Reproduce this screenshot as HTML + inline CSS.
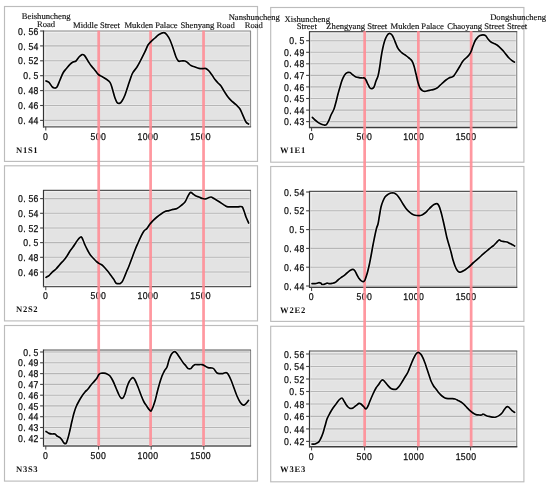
<!DOCTYPE html>
<html lang="en"><head><meta charset="utf-8"><title>Street profile charts</title>
<style>
html,body{margin:0;padding:0;background:#fff;}
body{width:550px;height:490px;overflow:hidden;}
svg{display:block;text-rendering:geometricPrecision;}
.tk{font-family:"Liberation Sans",sans-serif;font-size:9.9px;fill:#111;stroke:#111;stroke-width:.27px;}
.ti{font-family:"Liberation Serif",serif;font-size:8.6px;fill:#111;stroke:#111;stroke-width:.15px;}
.nm{font-family:"Liberation Serif",serif;font-weight:bold;font-size:8.6px;fill:#111;letter-spacing:.42px;}
.hl{fill:none;stroke:#f0f0f0;stroke-width:3.3;stroke-linejoin:round;stroke-linecap:round;opacity:.75;}
.cv{fill:none;stroke:#000;stroke-width:1.7;stroke-linejoin:round;stroke-linecap:round;}
</style></head><body>
<svg width="550" height="490" viewBox="0 0 550 490">
<rect width="550" height="490" fill="#fff"/>

<g>
<rect x="4.5" y="6.5" width="253.0" height="154.9" fill="#fff" stroke="#bcbcbc" stroke-width="1.15"/>
<rect x="43.5" y="31.0" width="207.0" height="95.9" fill="#f1f1f1"/>
<rect x="45.5" y="32.8" width="203.6" height="92.5" fill="#e3e3e3"/>
<line x1="45.0" y1="45.9" x2="249.0" y2="45.9" stroke="#e9e9e9" stroke-width="2.8"/>
<line x1="44.5" y1="45.9" x2="249.5" y2="45.9" stroke="#b6b6b6" stroke-width="1.1"/>
<line x1="45.0" y1="60.8" x2="249.0" y2="60.8" stroke="#e9e9e9" stroke-width="2.8"/>
<line x1="44.5" y1="60.8" x2="249.5" y2="60.8" stroke="#b6b6b6" stroke-width="1.1"/>
<line x1="45.0" y1="75.7" x2="249.0" y2="75.7" stroke="#e9e9e9" stroke-width="2.8"/>
<line x1="44.5" y1="75.7" x2="249.5" y2="75.7" stroke="#b6b6b6" stroke-width="1.1"/>
<line x1="45.0" y1="90.6" x2="249.0" y2="90.6" stroke="#e9e9e9" stroke-width="2.8"/>
<line x1="44.5" y1="90.6" x2="249.5" y2="90.6" stroke="#b6b6b6" stroke-width="1.1"/>
<line x1="45.0" y1="105.5" x2="249.0" y2="105.5" stroke="#e9e9e9" stroke-width="2.8"/>
<line x1="44.5" y1="105.5" x2="249.5" y2="105.5" stroke="#b6b6b6" stroke-width="1.1"/>
<line x1="45.0" y1="120.4" x2="249.0" y2="120.4" stroke="#e9e9e9" stroke-width="2.8"/>
<line x1="44.5" y1="120.4" x2="249.5" y2="120.4" stroke="#b6b6b6" stroke-width="1.1"/>
<line x1="250.5" y1="31.0" x2="250.5" y2="126.9" stroke="#8e8e8e" stroke-width="1.2"/>
<line x1="43.5" y1="31.0" x2="251.0" y2="31.0" stroke="#858585" stroke-width="1.1"/>
<line x1="43.5" y1="30.5" x2="43.5" y2="127.5" stroke="#333" stroke-width="1.2"/>
<line x1="43.0" y1="126.9" x2="251.1" y2="126.9" stroke="#555" stroke-width="1.4"/>
<line x1="40.1" y1="31.0" x2="43.5" y2="31.0" stroke="#444" stroke-width="1.1"/>
<text class="tk" transform="scale(0.88 1)" x="20.43 26.48 32.25 38.16" y="34.65">0.56</text>
<line x1="40.1" y1="45.9" x2="43.5" y2="45.9" stroke="#444" stroke-width="1.1"/>
<text class="tk" transform="scale(0.88 1)" x="20.43 26.48 32.25 38.16" y="49.55">0.54</text>
<line x1="40.1" y1="60.8" x2="43.5" y2="60.8" stroke="#444" stroke-width="1.1"/>
<text class="tk" transform="scale(0.88 1)" x="20.43 26.48 32.25 38.16" y="64.45">0.52</text>
<line x1="40.1" y1="75.7" x2="43.5" y2="75.7" stroke="#444" stroke-width="1.1"/>
<text class="tk" transform="scale(0.88 1)" x="26.34 32.39 38.16" y="79.35">0.5</text>
<line x1="40.1" y1="90.6" x2="43.5" y2="90.6" stroke="#444" stroke-width="1.1"/>
<text class="tk" transform="scale(0.88 1)" x="20.43 26.48 32.25 38.16" y="94.25">0.48</text>
<line x1="40.1" y1="105.5" x2="43.5" y2="105.5" stroke="#444" stroke-width="1.1"/>
<text class="tk" transform="scale(0.88 1)" x="20.43 26.48 32.25 38.16" y="109.15">0.46</text>
<line x1="40.1" y1="120.4" x2="43.5" y2="120.4" stroke="#444" stroke-width="1.1"/>
<text class="tk" transform="scale(0.88 1)" x="20.43 26.48 32.25 38.16" y="124.05">0.44</text>
<line x1="45.8" y1="126.9" x2="45.8" y2="130.5" stroke="#444" stroke-width="1"/>
<line x1="98.6" y1="126.9" x2="98.6" y2="130.5" stroke="#444" stroke-width="1"/>
<line x1="151.2" y1="126.9" x2="151.2" y2="130.5" stroke="#444" stroke-width="1"/>
<line x1="203.8" y1="126.9" x2="203.8" y2="130.5" stroke="#444" stroke-width="1"/>
<text class="tk" transform="scale(0.88 1)" x="48.84" y="139.75">0</text>
<text class="tk" transform="scale(0.88 1)" x="102.93 108.84 114.75" y="139.75">500</text>
<text class="tk" transform="scale(0.88 1)" x="156.34 162.25 168.16 174.07" y="139.75">1000</text>
<text class="tk" transform="scale(0.88 1)" x="216.23 222.14 228.05 233.95" y="139.75">1500</text>
<text class="nm" style="letter-spacing:.65px" x="16.1" y="152.5">N1S1</text>
</g>
<g>
<rect x="4.5" y="165.8" width="253.0" height="155.1" fill="#fff" stroke="#bcbcbc" stroke-width="1.15"/>
<rect x="43.5" y="190.4" width="207.0" height="96.2" fill="#f1f1f1"/>
<rect x="45.5" y="192.2" width="203.6" height="92.8" fill="#e3e3e3"/>
<line x1="45.0" y1="198.6" x2="249.0" y2="198.6" stroke="#e9e9e9" stroke-width="2.8"/>
<line x1="44.5" y1="198.6" x2="249.5" y2="198.6" stroke="#b6b6b6" stroke-width="1.1"/>
<line x1="45.0" y1="213.3" x2="249.0" y2="213.3" stroke="#e9e9e9" stroke-width="2.8"/>
<line x1="44.5" y1="213.3" x2="249.5" y2="213.3" stroke="#b6b6b6" stroke-width="1.1"/>
<line x1="45.0" y1="228.0" x2="249.0" y2="228.0" stroke="#e9e9e9" stroke-width="2.8"/>
<line x1="44.5" y1="228.0" x2="249.5" y2="228.0" stroke="#b6b6b6" stroke-width="1.1"/>
<line x1="45.0" y1="242.6" x2="249.0" y2="242.6" stroke="#e9e9e9" stroke-width="2.8"/>
<line x1="44.5" y1="242.6" x2="249.5" y2="242.6" stroke="#b6b6b6" stroke-width="1.1"/>
<line x1="45.0" y1="257.3" x2="249.0" y2="257.3" stroke="#e9e9e9" stroke-width="2.8"/>
<line x1="44.5" y1="257.3" x2="249.5" y2="257.3" stroke="#b6b6b6" stroke-width="1.1"/>
<line x1="45.0" y1="272.0" x2="249.0" y2="272.0" stroke="#e9e9e9" stroke-width="2.8"/>
<line x1="44.5" y1="272.0" x2="249.5" y2="272.0" stroke="#b6b6b6" stroke-width="1.1"/>
<line x1="250.5" y1="190.4" x2="250.5" y2="286.6" stroke="#8e8e8e" stroke-width="1.2"/>
<line x1="43.5" y1="190.4" x2="251.0" y2="190.4" stroke="#555" stroke-width="1.1"/>
<line x1="43.5" y1="189.9" x2="43.5" y2="287.2" stroke="#333" stroke-width="1.2"/>
<line x1="43.0" y1="286.6" x2="251.1" y2="286.6" stroke="#555" stroke-width="1.4"/>
<line x1="40.1" y1="198.6" x2="43.5" y2="198.6" stroke="#444" stroke-width="1.1"/>
<text class="tk" transform="scale(0.88 1)" x="20.43 26.48 32.25 38.16" y="202.25">0.56</text>
<line x1="40.1" y1="213.3" x2="43.5" y2="213.3" stroke="#444" stroke-width="1.1"/>
<text class="tk" transform="scale(0.88 1)" x="20.43 26.48 32.25 38.16" y="216.93">0.54</text>
<line x1="40.1" y1="228.0" x2="43.5" y2="228.0" stroke="#444" stroke-width="1.1"/>
<text class="tk" transform="scale(0.88 1)" x="20.43 26.48 32.25 38.16" y="231.61">0.52</text>
<line x1="40.1" y1="242.6" x2="43.5" y2="242.6" stroke="#444" stroke-width="1.1"/>
<text class="tk" transform="scale(0.88 1)" x="26.34 32.39 38.16" y="246.29">0.5</text>
<line x1="40.1" y1="257.3" x2="43.5" y2="257.3" stroke="#444" stroke-width="1.1"/>
<text class="tk" transform="scale(0.88 1)" x="20.43 26.48 32.25 38.16" y="260.97">0.48</text>
<line x1="40.1" y1="272.0" x2="43.5" y2="272.0" stroke="#444" stroke-width="1.1"/>
<text class="tk" transform="scale(0.88 1)" x="20.43 26.48 32.25 38.16" y="275.65">0.46</text>
<line x1="45.8" y1="286.6" x2="45.8" y2="290.2" stroke="#444" stroke-width="1"/>
<line x1="98.6" y1="286.6" x2="98.6" y2="290.2" stroke="#444" stroke-width="1"/>
<line x1="151.2" y1="286.6" x2="151.2" y2="290.2" stroke="#444" stroke-width="1"/>
<line x1="203.8" y1="286.6" x2="203.8" y2="290.2" stroke="#444" stroke-width="1"/>
<text class="tk" transform="scale(0.88 1)" x="48.84" y="299.45">0</text>
<text class="tk" transform="scale(0.88 1)" x="102.93 108.84 114.75" y="299.45">500</text>
<text class="tk" transform="scale(0.88 1)" x="156.34 162.25 168.16 174.07" y="299.45">1000</text>
<text class="tk" transform="scale(0.88 1)" x="216.23 222.14 228.05 233.95" y="299.45">1500</text>
<text class="nm" style="letter-spacing:.65px" x="16.1" y="312.2">N2S2</text>
</g>
<g>
<rect x="4.5" y="325.5" width="253.0" height="155.6" fill="#fff" stroke="#bcbcbc" stroke-width="1.15"/>
<rect x="43.5" y="350.0" width="207.0" height="96.0" fill="#f1f1f1"/>
<rect x="45.5" y="351.8" width="203.6" height="92.6" fill="#e3e3e3"/>
<line x1="45.0" y1="352.0" x2="249.0" y2="352.0" stroke="#e9e9e9" stroke-width="2.8"/>
<line x1="44.5" y1="352.0" x2="249.5" y2="352.0" stroke="#b6b6b6" stroke-width="1.1"/>
<line x1="45.0" y1="362.8" x2="249.0" y2="362.8" stroke="#e9e9e9" stroke-width="2.8"/>
<line x1="44.5" y1="362.8" x2="249.5" y2="362.8" stroke="#b6b6b6" stroke-width="1.1"/>
<line x1="45.0" y1="373.6" x2="249.0" y2="373.6" stroke="#e9e9e9" stroke-width="2.8"/>
<line x1="44.5" y1="373.6" x2="249.5" y2="373.6" stroke="#b6b6b6" stroke-width="1.1"/>
<line x1="45.0" y1="384.4" x2="249.0" y2="384.4" stroke="#e9e9e9" stroke-width="2.8"/>
<line x1="44.5" y1="384.4" x2="249.5" y2="384.4" stroke="#b6b6b6" stroke-width="1.1"/>
<line x1="45.0" y1="395.2" x2="249.0" y2="395.2" stroke="#e9e9e9" stroke-width="2.8"/>
<line x1="44.5" y1="395.2" x2="249.5" y2="395.2" stroke="#b6b6b6" stroke-width="1.1"/>
<line x1="45.0" y1="405.9" x2="249.0" y2="405.9" stroke="#e9e9e9" stroke-width="2.8"/>
<line x1="44.5" y1="405.9" x2="249.5" y2="405.9" stroke="#b6b6b6" stroke-width="1.1"/>
<line x1="45.0" y1="416.7" x2="249.0" y2="416.7" stroke="#e9e9e9" stroke-width="2.8"/>
<line x1="44.5" y1="416.7" x2="249.5" y2="416.7" stroke="#b6b6b6" stroke-width="1.1"/>
<line x1="45.0" y1="427.5" x2="249.0" y2="427.5" stroke="#e9e9e9" stroke-width="2.8"/>
<line x1="44.5" y1="427.5" x2="249.5" y2="427.5" stroke="#b6b6b6" stroke-width="1.1"/>
<line x1="45.0" y1="438.3" x2="249.0" y2="438.3" stroke="#e9e9e9" stroke-width="2.8"/>
<line x1="44.5" y1="438.3" x2="249.5" y2="438.3" stroke="#b6b6b6" stroke-width="1.1"/>
<line x1="250.5" y1="350.0" x2="250.5" y2="446.0" stroke="#8e8e8e" stroke-width="1.2"/>
<line x1="43.5" y1="350.0" x2="251.0" y2="350.0" stroke="#555" stroke-width="1.1"/>
<line x1="43.5" y1="349.5" x2="43.5" y2="446.6" stroke="#333" stroke-width="1.2"/>
<line x1="43.0" y1="446.0" x2="251.1" y2="446.0" stroke="#555" stroke-width="1.4"/>
<line x1="40.1" y1="352.0" x2="43.5" y2="352.0" stroke="#444" stroke-width="1.1"/>
<text class="tk" transform="scale(0.88 1)" x="26.34 32.39 38.16" y="355.65">0.5</text>
<line x1="40.1" y1="362.8" x2="43.5" y2="362.8" stroke="#444" stroke-width="1.1"/>
<text class="tk" transform="scale(0.88 1)" x="20.43 26.48 32.25 38.16" y="366.44">0.49</text>
<line x1="40.1" y1="373.6" x2="43.5" y2="373.6" stroke="#444" stroke-width="1.1"/>
<text class="tk" transform="scale(0.88 1)" x="20.43 26.48 32.25 38.16" y="377.23">0.48</text>
<line x1="40.1" y1="384.4" x2="43.5" y2="384.4" stroke="#444" stroke-width="1.1"/>
<text class="tk" transform="scale(0.88 1)" x="20.43 26.48 32.25 38.16" y="388.02">0.47</text>
<line x1="40.1" y1="395.2" x2="43.5" y2="395.2" stroke="#444" stroke-width="1.1"/>
<text class="tk" transform="scale(0.88 1)" x="20.43 26.48 32.25 38.16" y="398.81">0.46</text>
<line x1="40.1" y1="405.9" x2="43.5" y2="405.9" stroke="#444" stroke-width="1.1"/>
<text class="tk" transform="scale(0.88 1)" x="20.43 26.48 32.25 38.16" y="409.60">0.45</text>
<line x1="40.1" y1="416.7" x2="43.5" y2="416.7" stroke="#444" stroke-width="1.1"/>
<text class="tk" transform="scale(0.88 1)" x="20.43 26.48 32.25 38.16" y="420.39">0.44</text>
<line x1="40.1" y1="427.5" x2="43.5" y2="427.5" stroke="#444" stroke-width="1.1"/>
<text class="tk" transform="scale(0.88 1)" x="20.43 26.48 32.25 38.16" y="431.18">0.43</text>
<line x1="40.1" y1="438.3" x2="43.5" y2="438.3" stroke="#444" stroke-width="1.1"/>
<text class="tk" transform="scale(0.88 1)" x="20.43 26.48 32.25 38.16" y="441.97">0.42</text>
<line x1="45.8" y1="446.0" x2="45.8" y2="449.6" stroke="#444" stroke-width="1"/>
<line x1="98.6" y1="446.0" x2="98.6" y2="449.6" stroke="#444" stroke-width="1"/>
<line x1="151.2" y1="446.0" x2="151.2" y2="449.6" stroke="#444" stroke-width="1"/>
<line x1="203.8" y1="446.0" x2="203.8" y2="449.6" stroke="#444" stroke-width="1"/>
<text class="tk" transform="scale(0.88 1)" x="48.84" y="458.85">0</text>
<text class="tk" transform="scale(0.88 1)" x="102.93 108.84 114.75" y="458.85">500</text>
<text class="tk" transform="scale(0.88 1)" x="156.34 162.25 168.16 174.07" y="458.85">1000</text>
<text class="tk" transform="scale(0.88 1)" x="216.23 222.14 228.05 233.95" y="458.85">1500</text>
<text class="nm" style="letter-spacing:.65px" x="16.1" y="471.6">N3S3</text>
</g>
<g>
<rect x="270.7" y="7.5" width="253.2" height="154.7" fill="#fff" stroke="#bcbcbc" stroke-width="1.15"/>
<rect x="309.5" y="31.6" width="207.2" height="95.9" fill="#f1f1f1"/>
<rect x="311.5" y="33.4" width="203.8" height="92.5" fill="#e3e3e3"/>
<line x1="311.0" y1="40.7" x2="515.2" y2="40.7" stroke="#e9e9e9" stroke-width="2.8"/>
<line x1="310.5" y1="40.7" x2="515.7" y2="40.7" stroke="#b6b6b6" stroke-width="1.1"/>
<line x1="311.0" y1="52.3" x2="515.2" y2="52.3" stroke="#e9e9e9" stroke-width="2.8"/>
<line x1="310.5" y1="52.3" x2="515.7" y2="52.3" stroke="#b6b6b6" stroke-width="1.1"/>
<line x1="311.0" y1="63.8" x2="515.2" y2="63.8" stroke="#e9e9e9" stroke-width="2.8"/>
<line x1="310.5" y1="63.8" x2="515.7" y2="63.8" stroke="#b6b6b6" stroke-width="1.1"/>
<line x1="311.0" y1="75.4" x2="515.2" y2="75.4" stroke="#e9e9e9" stroke-width="2.8"/>
<line x1="310.5" y1="75.4" x2="515.7" y2="75.4" stroke="#b6b6b6" stroke-width="1.1"/>
<line x1="311.0" y1="86.9" x2="515.2" y2="86.9" stroke="#e9e9e9" stroke-width="2.8"/>
<line x1="310.5" y1="86.9" x2="515.7" y2="86.9" stroke="#b6b6b6" stroke-width="1.1"/>
<line x1="311.0" y1="98.5" x2="515.2" y2="98.5" stroke="#e9e9e9" stroke-width="2.8"/>
<line x1="310.5" y1="98.5" x2="515.7" y2="98.5" stroke="#b6b6b6" stroke-width="1.1"/>
<line x1="311.0" y1="110.1" x2="515.2" y2="110.1" stroke="#e9e9e9" stroke-width="2.8"/>
<line x1="310.5" y1="110.1" x2="515.7" y2="110.1" stroke="#b6b6b6" stroke-width="1.1"/>
<line x1="311.0" y1="121.6" x2="515.2" y2="121.6" stroke="#e9e9e9" stroke-width="2.8"/>
<line x1="310.5" y1="121.6" x2="515.7" y2="121.6" stroke="#b6b6b6" stroke-width="1.1"/>
<line x1="516.7" y1="31.6" x2="516.7" y2="127.5" stroke="#8e8e8e" stroke-width="1.2"/>
<line x1="309.5" y1="31.6" x2="517.2" y2="31.6" stroke="#555" stroke-width="1.1"/>
<line x1="309.5" y1="31.1" x2="309.5" y2="128.1" stroke="#333" stroke-width="1.2"/>
<line x1="309.0" y1="127.5" x2="517.3" y2="127.5" stroke="#3c3c3c" stroke-width="1.4"/>
<line x1="306.1" y1="40.7" x2="309.5" y2="40.7" stroke="#444" stroke-width="1.1"/>
<text class="tk" transform="scale(0.88 1)" x="328.61 334.66 340.43" y="44.35">0.5</text>
<line x1="306.1" y1="52.3" x2="309.5" y2="52.3" stroke="#444" stroke-width="1.1"/>
<text class="tk" transform="scale(0.88 1)" x="322.70 328.75 334.52 340.43" y="55.91">0.49</text>
<line x1="306.1" y1="63.8" x2="309.5" y2="63.8" stroke="#444" stroke-width="1.1"/>
<text class="tk" transform="scale(0.88 1)" x="322.70 328.75 334.52 340.43" y="67.47">0.48</text>
<line x1="306.1" y1="75.4" x2="309.5" y2="75.4" stroke="#444" stroke-width="1.1"/>
<text class="tk" transform="scale(0.88 1)" x="322.70 328.75 334.52 340.43" y="79.03">0.47</text>
<line x1="306.1" y1="86.9" x2="309.5" y2="86.9" stroke="#444" stroke-width="1.1"/>
<text class="tk" transform="scale(0.88 1)" x="322.70 328.75 334.52 340.43" y="90.59">0.46</text>
<line x1="306.1" y1="98.5" x2="309.5" y2="98.5" stroke="#444" stroke-width="1.1"/>
<text class="tk" transform="scale(0.88 1)" x="322.70 328.75 334.52 340.43" y="102.15">0.45</text>
<line x1="306.1" y1="110.1" x2="309.5" y2="110.1" stroke="#444" stroke-width="1.1"/>
<text class="tk" transform="scale(0.88 1)" x="322.70 328.75 334.52 340.43" y="113.71">0.44</text>
<line x1="306.1" y1="121.6" x2="309.5" y2="121.6" stroke="#444" stroke-width="1.1"/>
<text class="tk" transform="scale(0.88 1)" x="322.70 328.75 334.52 340.43" y="125.27">0.43</text>
<line x1="311.6" y1="127.5" x2="311.6" y2="131.1" stroke="#444" stroke-width="1"/>
<line x1="364.6" y1="127.5" x2="364.6" y2="131.1" stroke="#444" stroke-width="1"/>
<line x1="417.6" y1="127.5" x2="417.6" y2="131.1" stroke="#444" stroke-width="1"/>
<line x1="470.6" y1="127.5" x2="470.6" y2="131.1" stroke="#444" stroke-width="1"/>
<text class="tk" transform="scale(0.88 1)" x="350.77" y="140.35">0</text>
<text class="tk" transform="scale(0.88 1)" x="405.09 411.00 416.91" y="140.35">500</text>
<text class="tk" transform="scale(0.88 1)" x="458.39 464.30 470.20 476.11" y="140.35">1000</text>
<text class="tk" transform="scale(0.88 1)" x="517.82 523.73 529.64 535.55" y="140.35">1500</text>
<text class="nm" style="letter-spacing:.78px" x="280.1" y="153.0">W1E1</text>
</g>
<g>
<rect x="270.7" y="166.5" width="253.2" height="154.9" fill="#fff" stroke="#bcbcbc" stroke-width="1.15"/>
<rect x="309.5" y="191.4" width="207.2" height="96.0" fill="#f1f1f1"/>
<rect x="311.5" y="193.2" width="203.8" height="92.6" fill="#e3e3e3"/>
<line x1="311.0" y1="210.8" x2="515.2" y2="210.8" stroke="#e9e9e9" stroke-width="2.8"/>
<line x1="310.5" y1="210.8" x2="515.7" y2="210.8" stroke="#b6b6b6" stroke-width="1.1"/>
<line x1="311.0" y1="229.6" x2="515.2" y2="229.6" stroke="#e9e9e9" stroke-width="2.8"/>
<line x1="310.5" y1="229.6" x2="515.7" y2="229.6" stroke="#b6b6b6" stroke-width="1.1"/>
<line x1="311.0" y1="248.4" x2="515.2" y2="248.4" stroke="#e9e9e9" stroke-width="2.8"/>
<line x1="310.5" y1="248.4" x2="515.7" y2="248.4" stroke="#b6b6b6" stroke-width="1.1"/>
<line x1="311.0" y1="267.2" x2="515.2" y2="267.2" stroke="#e9e9e9" stroke-width="2.8"/>
<line x1="310.5" y1="267.2" x2="515.7" y2="267.2" stroke="#b6b6b6" stroke-width="1.1"/>
<line x1="311.0" y1="286.0" x2="515.2" y2="286.0" stroke="#e9e9e9" stroke-width="2.8"/>
<line x1="310.5" y1="286.0" x2="515.7" y2="286.0" stroke="#b6b6b6" stroke-width="1.1"/>
<line x1="516.7" y1="191.4" x2="516.7" y2="287.4" stroke="#8e8e8e" stroke-width="1.2"/>
<line x1="309.5" y1="191.4" x2="517.2" y2="191.4" stroke="#555" stroke-width="1.1"/>
<line x1="309.5" y1="190.9" x2="309.5" y2="288.0" stroke="#333" stroke-width="1.2"/>
<line x1="309.0" y1="287.4" x2="517.3" y2="287.4" stroke="#3c3c3c" stroke-width="1.4"/>
<line x1="306.1" y1="192.0" x2="309.5" y2="192.0" stroke="#444" stroke-width="1.1"/>
<text class="tk" transform="scale(0.88 1)" x="322.70 328.75 334.52 340.43" y="195.65">0.54</text>
<line x1="306.1" y1="210.8" x2="309.5" y2="210.8" stroke="#444" stroke-width="1.1"/>
<text class="tk" transform="scale(0.88 1)" x="322.70 328.75 334.52 340.43" y="214.45">0.52</text>
<line x1="306.1" y1="229.6" x2="309.5" y2="229.6" stroke="#444" stroke-width="1.1"/>
<text class="tk" transform="scale(0.88 1)" x="328.61 334.66 340.43" y="233.25">0.5</text>
<line x1="306.1" y1="248.4" x2="309.5" y2="248.4" stroke="#444" stroke-width="1.1"/>
<text class="tk" transform="scale(0.88 1)" x="322.70 328.75 334.52 340.43" y="252.05">0.48</text>
<line x1="306.1" y1="267.2" x2="309.5" y2="267.2" stroke="#444" stroke-width="1.1"/>
<text class="tk" transform="scale(0.88 1)" x="322.70 328.75 334.52 340.43" y="270.85">0.46</text>
<line x1="306.1" y1="286.0" x2="309.5" y2="286.0" stroke="#444" stroke-width="1.1"/>
<text class="tk" transform="scale(0.88 1)" x="322.70 328.75 334.52 340.43" y="289.65">0.44</text>
<line x1="311.6" y1="287.4" x2="311.6" y2="291.0" stroke="#444" stroke-width="1"/>
<line x1="364.6" y1="287.4" x2="364.6" y2="291.0" stroke="#444" stroke-width="1"/>
<line x1="417.6" y1="287.4" x2="417.6" y2="291.0" stroke="#444" stroke-width="1"/>
<line x1="470.6" y1="287.4" x2="470.6" y2="291.0" stroke="#444" stroke-width="1"/>
<text class="tk" transform="scale(0.88 1)" x="350.77" y="300.25">0</text>
<text class="tk" transform="scale(0.88 1)" x="405.09 411.00 416.91" y="300.25">500</text>
<text class="tk" transform="scale(0.88 1)" x="458.39 464.30 470.20 476.11" y="300.25">1000</text>
<text class="tk" transform="scale(0.88 1)" x="517.82 523.73 529.64 535.55" y="300.25">1500</text>
<text class="nm" style="letter-spacing:.78px" x="280.1" y="312.9">W2E2</text>
</g>
<g>
<rect x="270.7" y="326.3" width="253.2" height="155.5" fill="#fff" stroke="#bcbcbc" stroke-width="1.15"/>
<rect x="309.5" y="351.0" width="207.2" height="95.8" fill="#f1f1f1"/>
<rect x="311.5" y="352.8" width="203.8" height="92.4" fill="#e3e3e3"/>
<line x1="311.0" y1="354.0" x2="515.2" y2="354.0" stroke="#e9e9e9" stroke-width="2.8"/>
<line x1="310.5" y1="354.0" x2="515.7" y2="354.0" stroke="#b6b6b6" stroke-width="1.1"/>
<line x1="311.0" y1="366.5" x2="515.2" y2="366.5" stroke="#e9e9e9" stroke-width="2.8"/>
<line x1="310.5" y1="366.5" x2="515.7" y2="366.5" stroke="#b6b6b6" stroke-width="1.1"/>
<line x1="311.0" y1="379.0" x2="515.2" y2="379.0" stroke="#e9e9e9" stroke-width="2.8"/>
<line x1="310.5" y1="379.0" x2="515.7" y2="379.0" stroke="#b6b6b6" stroke-width="1.1"/>
<line x1="311.0" y1="391.5" x2="515.2" y2="391.5" stroke="#e9e9e9" stroke-width="2.8"/>
<line x1="310.5" y1="391.5" x2="515.7" y2="391.5" stroke="#b6b6b6" stroke-width="1.1"/>
<line x1="311.0" y1="404.0" x2="515.2" y2="404.0" stroke="#e9e9e9" stroke-width="2.8"/>
<line x1="310.5" y1="404.0" x2="515.7" y2="404.0" stroke="#b6b6b6" stroke-width="1.1"/>
<line x1="311.0" y1="416.4" x2="515.2" y2="416.4" stroke="#e9e9e9" stroke-width="2.8"/>
<line x1="310.5" y1="416.4" x2="515.7" y2="416.4" stroke="#b6b6b6" stroke-width="1.1"/>
<line x1="311.0" y1="428.9" x2="515.2" y2="428.9" stroke="#e9e9e9" stroke-width="2.8"/>
<line x1="310.5" y1="428.9" x2="515.7" y2="428.9" stroke="#b6b6b6" stroke-width="1.1"/>
<line x1="311.0" y1="441.4" x2="515.2" y2="441.4" stroke="#e9e9e9" stroke-width="2.8"/>
<line x1="310.5" y1="441.4" x2="515.7" y2="441.4" stroke="#b6b6b6" stroke-width="1.1"/>
<line x1="516.7" y1="351.0" x2="516.7" y2="446.8" stroke="#8e8e8e" stroke-width="1.2"/>
<line x1="309.5" y1="351.0" x2="517.2" y2="351.0" stroke="#555" stroke-width="1.1"/>
<line x1="309.5" y1="350.5" x2="309.5" y2="447.4" stroke="#333" stroke-width="1.2"/>
<line x1="309.0" y1="446.8" x2="517.3" y2="446.8" stroke="#3c3c3c" stroke-width="1.4"/>
<line x1="306.1" y1="354.0" x2="309.5" y2="354.0" stroke="#444" stroke-width="1.1"/>
<text class="tk" transform="scale(0.88 1)" x="322.70 328.75 334.52 340.43" y="357.65">0.56</text>
<line x1="306.1" y1="366.5" x2="309.5" y2="366.5" stroke="#444" stroke-width="1.1"/>
<text class="tk" transform="scale(0.88 1)" x="322.70 328.75 334.52 340.43" y="370.14">0.54</text>
<line x1="306.1" y1="379.0" x2="309.5" y2="379.0" stroke="#444" stroke-width="1.1"/>
<text class="tk" transform="scale(0.88 1)" x="322.70 328.75 334.52 340.43" y="382.63">0.52</text>
<line x1="306.1" y1="391.5" x2="309.5" y2="391.5" stroke="#444" stroke-width="1.1"/>
<text class="tk" transform="scale(0.88 1)" x="328.61 334.66 340.43" y="395.12">0.5</text>
<line x1="306.1" y1="404.0" x2="309.5" y2="404.0" stroke="#444" stroke-width="1.1"/>
<text class="tk" transform="scale(0.88 1)" x="322.70 328.75 334.52 340.43" y="407.61">0.48</text>
<line x1="306.1" y1="416.4" x2="309.5" y2="416.4" stroke="#444" stroke-width="1.1"/>
<text class="tk" transform="scale(0.88 1)" x="322.70 328.75 334.52 340.43" y="420.10">0.46</text>
<line x1="306.1" y1="428.9" x2="309.5" y2="428.9" stroke="#444" stroke-width="1.1"/>
<text class="tk" transform="scale(0.88 1)" x="322.70 328.75 334.52 340.43" y="432.59">0.44</text>
<line x1="306.1" y1="441.4" x2="309.5" y2="441.4" stroke="#444" stroke-width="1.1"/>
<text class="tk" transform="scale(0.88 1)" x="322.70 328.75 334.52 340.43" y="445.08">0.42</text>
<line x1="311.6" y1="446.8" x2="311.6" y2="450.4" stroke="#444" stroke-width="1"/>
<line x1="364.6" y1="446.8" x2="364.6" y2="450.4" stroke="#444" stroke-width="1"/>
<line x1="417.6" y1="446.8" x2="417.6" y2="450.4" stroke="#444" stroke-width="1"/>
<line x1="470.6" y1="446.8" x2="470.6" y2="450.4" stroke="#444" stroke-width="1"/>
<text class="tk" transform="scale(0.88 1)" x="350.77" y="459.65">0</text>
<text class="tk" transform="scale(0.88 1)" x="405.09 411.00 416.91" y="459.65">500</text>
<text class="tk" transform="scale(0.88 1)" x="458.39 464.30 470.20 476.11" y="459.65">1000</text>
<text class="tk" transform="scale(0.88 1)" x="517.82 523.73 529.64 535.55" y="459.65">1500</text>
<text class="nm" style="letter-spacing:.78px" x="280.1" y="471.9">W3E3</text>
</g>
<text class="ti" x="46.2" y="18.5" text-anchor="middle">Beishuncheng</text>
<text class="ti" x="46.0" y="27.0" text-anchor="middle">Road</text>
<text class="ti" x="96.5" y="27.7" text-anchor="middle">Middle Street</text>
<text class="ti" x="151.0" y="27.7" text-anchor="middle">Mukden Palace</text>
<text class="ti" x="207.6" y="27.7" text-anchor="middle">Shenyang Road</text>
<text class="ti" x="254.2" y="19.5" text-anchor="middle">Nanshuncheng</text>
<text class="ti" x="253.8" y="27.8" text-anchor="middle">Road</text>
<text class="ti" x="307.3" y="22.0" text-anchor="middle">Xishuncheng</text>
<text class="ti" x="306.8" y="29.1" text-anchor="middle">Street</text>
<text class="ti" x="356.8" y="28.6" text-anchor="middle">Zhengyang Street</text>
<text class="ti" x="417.2" y="28.6" text-anchor="middle">Mukden Palace</text>
<text class="ti" x="475.8" y="28.6" text-anchor="middle">Chaoyang Street</text>
<text class="ti" x="518.1" y="19.6" text-anchor="middle">Dongshuncheng</text>
<text class="ti" x="517.1" y="28.6" text-anchor="middle">Street</text>
<path class="hl" d="M46.0 81.0C46.5 81.2 48.0 81.5 49.0 82.4C50.0 83.3 51.1 85.7 52.0 86.6C52.9 87.5 53.6 87.9 54.4 88.0C55.2 88.1 56.1 88.3 57.0 87.0C57.9 85.7 59.0 82.3 60.0 80.0C61.0 77.7 62.0 74.8 63.0 73.0C64.0 71.2 64.8 70.4 66.0 69.0C67.2 67.6 68.8 65.6 70.0 64.4C71.2 63.2 72.0 62.6 73.0 62.0C74.0 61.4 75.0 61.8 76.0 61.0C77.0 60.2 78.0 58.1 79.0 57.0C80.0 55.9 81.1 54.9 82.0 54.6C82.9 54.3 83.4 54.3 84.4 55.4C85.4 56.5 86.9 59.3 88.0 61.0C89.1 62.7 90.0 64.3 91.0 65.6C92.0 66.9 93.0 67.8 94.0 69.0C95.0 70.2 96.2 72.0 97.0 73.0C97.8 74.0 98.2 74.4 99.0 75.0C99.8 75.6 100.8 75.9 102.0 76.6C103.2 77.3 104.7 78.0 106.0 79.0C107.3 80.0 108.9 80.7 110.0 82.4C111.1 84.1 111.6 86.4 112.4 89.0C113.2 91.6 114.2 95.8 115.0 98.0C115.8 100.2 116.3 101.5 117.0 102.4C117.7 103.3 118.6 103.6 119.4 103.4C120.2 103.2 121.1 102.4 122.0 101.0C122.9 99.6 124.0 97.5 125.0 95.0C126.0 92.5 127.0 89.0 128.0 86.0C129.0 83.0 130.2 79.3 131.0 77.0C131.8 74.7 132.0 74.1 133.0 72.4C134.0 70.7 135.7 69.1 137.0 67.0C138.3 64.9 139.7 62.2 141.0 59.6C142.3 57.0 143.8 54.0 145.0 51.6C146.2 49.2 147.0 46.7 148.0 45.0C149.0 43.3 149.8 42.8 151.0 41.6C152.2 40.4 153.7 39.2 155.0 38.0C156.3 36.8 157.5 35.3 159.0 34.4C160.5 33.5 162.7 32.5 164.0 32.6C165.3 32.7 166.0 33.8 167.0 35.0C168.0 36.2 169.0 37.8 170.0 40.0C171.0 42.2 172.0 45.2 173.0 48.0C174.0 50.8 175.1 54.8 176.0 57.0C176.9 59.2 177.6 60.3 178.4 61.0C179.2 61.7 179.9 61.0 181.0 61.0C182.1 61.0 183.8 60.7 185.0 61.0C186.2 61.3 187.0 62.2 188.0 63.0C189.0 63.8 189.8 64.9 191.0 65.6C192.2 66.3 193.7 66.5 195.0 67.0C196.3 67.5 197.7 68.1 199.0 68.4C200.3 68.7 201.8 68.6 203.0 68.6C204.2 68.6 205.0 68.2 206.0 68.6C207.0 69.0 208.0 69.9 209.0 71.0C210.0 72.1 211.0 73.6 212.0 75.0C213.0 76.4 214.0 78.3 215.0 79.6C216.0 80.9 217.0 81.9 218.0 83.0C219.0 84.1 220.0 84.7 221.0 86.0C222.0 87.3 222.8 89.2 224.0 91.0C225.2 92.8 226.8 95.4 228.0 97.0C229.2 98.6 230.0 99.4 231.0 100.4C232.0 101.4 233.0 102.1 234.0 103.0C235.0 103.9 236.0 104.6 237.0 105.6C238.0 106.6 239.0 107.3 240.0 109.0C241.0 110.7 242.0 113.4 243.0 115.6C244.0 117.8 245.1 120.6 246.0 122.0C246.9 123.4 248.2 123.7 248.6 124.0"/>
<path class="hl" d="M46.0 277.4C46.5 277.1 48.0 276.4 49.0 275.6C50.0 274.8 50.8 273.5 52.0 272.4C53.2 271.3 54.7 270.3 56.0 269.0C57.3 267.7 58.7 265.9 60.0 264.4C61.3 262.9 62.8 261.4 64.0 260.0C65.2 258.6 66.0 257.5 67.0 256.0C68.0 254.5 69.0 252.5 70.0 251.0C71.0 249.5 72.0 248.4 73.0 247.0C74.0 245.6 75.0 243.8 76.0 242.4C77.0 241.0 78.1 239.3 79.0 238.4C79.9 237.5 80.7 236.7 81.4 237.0C82.1 237.3 82.4 238.7 83.0 240.0C83.6 241.3 84.2 243.2 85.0 245.0C85.8 246.8 87.1 249.3 88.0 251.0C88.9 252.7 89.4 253.7 90.4 255.0C91.4 256.3 92.9 257.8 94.0 259.0C95.1 260.2 96.2 261.3 97.0 262.0C97.8 262.7 98.2 262.9 99.0 263.4C99.8 263.9 101.0 264.2 102.0 265.0C103.0 265.8 104.0 266.9 105.0 268.0C106.0 269.1 107.0 270.3 108.0 271.6C109.0 272.9 110.0 274.3 111.0 275.6C112.0 276.9 113.2 278.3 114.0 279.6C114.8 280.9 115.3 282.5 116.0 283.2C116.7 283.9 117.3 283.5 118.0 283.6C118.7 283.7 119.3 283.9 120.0 283.6C120.7 283.3 121.3 282.9 122.0 282.0C122.7 281.1 123.3 279.7 124.0 278.0C124.7 276.3 125.6 274.0 126.4 272.0C127.2 270.0 128.1 268.3 129.0 266.0C129.9 263.7 131.0 260.7 132.0 258.0C133.0 255.3 134.0 252.5 135.0 250.0C136.0 247.5 137.0 245.3 138.0 243.0C139.0 240.7 140.0 238.4 141.0 236.4C142.0 234.4 143.0 232.3 144.0 231.0C145.0 229.7 146.0 229.6 147.0 228.4C148.0 227.2 149.0 225.3 150.0 224.0C151.0 222.7 151.8 221.8 153.0 220.6C154.2 219.4 155.7 218.1 157.0 217.0C158.3 215.9 159.7 214.9 161.0 214.0C162.3 213.1 163.7 212.2 165.0 211.6C166.3 211.0 167.7 211.0 169.0 210.6C170.3 210.2 171.7 209.8 173.0 209.4C174.3 209.0 175.7 209.0 177.0 208.4C178.3 207.8 179.7 206.7 181.0 205.6C182.3 204.5 183.8 203.6 185.0 202.0C186.2 200.4 187.1 197.6 188.0 196.0C188.9 194.4 189.8 192.7 190.6 192.4C191.4 192.1 192.1 193.4 193.0 194.0C193.9 194.6 195.0 195.5 196.0 196.0C197.0 196.5 198.0 196.6 199.0 197.0C200.0 197.4 201.0 198.1 202.0 198.4C203.0 198.7 204.0 199.1 205.0 199.0C206.0 198.9 207.0 198.3 208.0 198.0C209.0 197.7 210.0 196.9 211.0 197.0C212.0 197.1 212.8 197.9 214.0 198.6C215.2 199.3 216.7 200.2 218.0 201.0C219.3 201.8 220.8 202.8 222.0 203.6C223.2 204.4 224.0 205.1 225.0 205.6C226.0 206.1 226.7 206.6 228.0 206.8C229.3 207.0 231.3 206.8 233.0 206.8C234.7 206.8 236.5 206.8 238.0 206.8C239.5 206.8 241.0 206.1 242.0 206.8C243.0 207.5 243.3 209.3 244.0 211.0C244.7 212.7 245.2 215.0 246.0 217.0C246.8 219.0 248.2 222.0 248.6 223.0"/>
<path class="hl" d="M46.0 431.4C46.5 431.7 48.0 433.0 49.0 433.4C50.0 433.8 51.0 433.9 52.0 434.0C53.0 434.1 54.2 433.7 55.0 434.0C55.8 434.3 56.2 435.4 57.0 436.0C57.8 436.6 59.2 436.9 60.0 437.6C60.8 438.3 61.3 439.1 62.0 440.0C62.7 440.9 63.3 442.4 64.0 443.0C64.7 443.6 65.3 444.2 66.0 443.4C66.7 442.6 67.3 440.2 68.0 438.0C68.7 435.8 69.3 432.8 70.0 430.0C70.7 427.2 71.3 423.8 72.0 421.0C72.7 418.2 73.3 415.3 74.0 413.0C74.7 410.7 75.2 409.0 76.0 407.0C76.8 405.0 78.0 402.8 79.0 401.0C80.0 399.2 81.0 397.5 82.0 396.0C83.0 394.5 84.0 393.2 85.0 392.0C86.0 390.8 87.0 390.2 88.0 389.0C89.0 387.8 90.0 386.2 91.0 385.0C92.0 383.8 93.0 382.8 94.0 381.6C95.0 380.4 96.2 379.2 97.0 378.0C97.8 376.8 98.3 375.2 99.0 374.4C99.7 373.6 100.2 373.4 101.0 373.2C101.8 373.0 103.0 373.1 104.0 373.2C105.0 373.3 106.0 373.5 107.0 374.0C108.0 374.5 109.0 374.8 110.0 376.0C111.0 377.2 112.0 379.0 113.0 381.0C114.0 383.0 115.0 385.7 116.0 388.0C117.0 390.3 118.2 393.3 119.0 395.0C119.8 396.7 120.3 397.5 121.0 398.0C121.7 398.5 122.3 398.7 123.0 398.0C123.7 397.3 124.3 395.8 125.0 394.0C125.7 392.2 126.3 389.0 127.0 387.0C127.7 385.0 128.3 383.3 129.0 382.0C129.7 380.7 130.3 379.7 131.0 379.0C131.7 378.3 132.3 377.4 133.0 377.6C133.7 377.8 134.2 378.4 135.0 380.0C135.8 381.6 137.0 384.5 138.0 387.0C139.0 389.5 140.0 392.5 141.0 395.0C142.0 397.5 143.0 400.1 144.0 402.0C145.0 403.9 146.2 405.3 147.0 406.5C147.8 407.7 148.3 408.6 149.0 409.4C149.7 410.1 150.3 411.4 151.0 411.0C151.7 410.6 152.3 408.7 153.0 407.0C153.7 405.3 154.3 403.3 155.0 401.0C155.7 398.7 156.3 395.8 157.0 393.0C157.7 390.2 158.6 386.8 159.4 384.0C160.2 381.2 161.2 378.2 162.0 376.0C162.8 373.8 163.6 372.5 164.4 371.0C165.2 369.5 166.2 368.8 167.0 367.0C167.8 365.2 168.3 362.0 169.0 360.0C169.7 358.0 170.3 356.3 171.0 355.0C171.7 353.7 172.3 353.0 173.0 352.4C173.7 351.8 174.3 351.4 175.0 351.6C175.7 351.8 176.2 352.5 177.0 353.6C177.8 354.7 179.0 356.5 180.0 358.0C181.0 359.5 182.0 361.1 183.0 362.4C184.0 363.7 185.2 365.0 186.0 366.0C186.8 367.0 187.2 368.0 188.0 368.4C188.8 368.8 190.2 368.8 191.0 368.4C191.8 368.0 192.3 366.6 193.0 366.0C193.7 365.4 194.2 364.8 195.0 364.6C195.8 364.4 196.8 364.6 198.0 364.6C199.2 364.6 200.8 364.4 202.0 364.6C203.2 364.8 204.0 365.5 205.0 366.0C206.0 366.5 206.8 367.3 208.0 367.6C209.2 367.9 211.0 367.8 212.0 368.0C213.0 368.2 213.2 368.2 214.0 369.0C214.8 369.8 216.0 372.2 217.0 373.0C218.0 373.8 219.0 373.5 220.0 373.6C221.0 373.7 222.0 373.8 223.0 373.6C224.0 373.4 225.2 372.5 226.0 372.6C226.8 372.7 227.2 372.8 228.0 374.0C228.8 375.2 230.0 377.7 231.0 380.0C232.0 382.3 233.0 385.3 234.0 388.0C235.0 390.7 236.0 393.7 237.0 396.0C238.0 398.3 239.0 400.5 240.0 402.0C241.0 403.5 242.2 404.6 243.0 405.0C243.8 405.4 244.3 404.8 245.0 404.4C245.7 404.0 246.4 403.1 247.0 402.4C247.6 401.7 248.3 400.7 248.6 400.4"/>
<path class="hl" d="M312.4 117.4C312.8 117.8 314.1 119.2 315.0 120.0C315.9 120.8 317.0 121.7 318.0 122.4C319.0 123.1 320.0 123.6 321.0 124.0C322.0 124.4 323.1 124.9 324.0 125.0C324.9 125.1 325.6 125.3 326.4 124.6C327.2 123.9 327.8 122.6 328.6 121.0C329.4 119.4 330.1 117.0 331.0 115.0C331.9 113.0 333.2 111.2 334.0 109.0C334.8 106.8 335.3 104.5 336.0 102.0C336.7 99.5 337.3 96.5 338.0 94.0C338.7 91.5 339.3 89.3 340.0 87.0C340.7 84.7 341.3 82.2 342.0 80.4C342.7 78.6 343.3 77.2 344.0 76.0C344.7 74.8 345.3 74.0 346.0 73.4C346.7 72.8 347.3 72.5 348.0 72.4C348.7 72.3 349.2 72.2 350.0 72.6C350.8 73.0 352.0 74.3 353.0 75.0C354.0 75.7 355.0 76.6 356.0 77.0C357.0 77.4 358.0 77.4 359.0 77.6C360.0 77.8 361.1 77.9 362.0 78.0C362.9 78.1 363.7 77.7 364.4 78.0C365.1 78.3 365.4 78.9 366.0 80.0C366.6 81.1 367.3 83.1 368.0 84.4C368.7 85.7 369.3 87.3 370.0 88.0C370.7 88.7 371.3 88.8 372.0 88.6C372.7 88.4 373.3 88.3 374.0 87.0C374.7 85.7 375.3 82.8 376.0 81.0C376.7 79.2 377.4 78.0 378.0 76.0C378.6 74.0 378.9 72.0 379.4 69.0C379.9 66.0 380.5 61.3 381.0 58.0C381.5 54.7 382.0 51.8 382.6 49.0C383.2 46.2 383.9 43.2 384.6 41.0C385.3 38.8 386.2 36.9 387.0 35.6C387.8 34.3 388.6 33.5 389.4 33.4C390.2 33.3 391.2 34.1 392.0 35.0C392.8 35.9 393.3 37.5 394.0 39.0C394.7 40.5 395.3 42.4 396.0 44.0C396.7 45.6 397.3 47.2 398.0 48.4C398.7 49.6 399.2 50.1 400.0 51.0C400.8 51.9 402.0 52.8 403.0 53.6C404.0 54.4 405.0 54.9 406.0 55.6C407.0 56.3 408.0 57.1 409.0 58.0C410.0 58.9 411.2 59.7 412.0 61.0C412.8 62.3 413.3 63.8 414.0 66.0C414.7 68.2 415.3 71.3 416.0 74.0C416.7 76.7 417.3 80.1 418.0 82.4C418.7 84.7 419.3 86.6 420.0 88.0C420.7 89.4 421.6 90.0 422.4 90.6C423.2 91.2 424.1 91.4 425.0 91.4C425.9 91.4 427.0 90.8 428.0 90.6C429.0 90.4 430.0 90.2 431.0 90.0C432.0 89.8 433.0 89.7 434.0 89.4C435.0 89.1 436.0 88.7 437.0 88.0C438.0 87.3 439.0 86.3 440.0 85.4C441.0 84.5 442.0 83.5 443.0 82.6C444.0 81.7 445.0 80.8 446.0 80.0C447.0 79.2 448.0 78.5 449.0 78.0C450.0 77.5 451.2 77.4 452.0 77.0C452.8 76.6 453.2 76.6 454.0 75.6C454.8 74.6 456.0 72.6 457.0 71.0C458.0 69.4 459.0 67.7 460.0 66.0C461.0 64.3 462.0 62.3 463.0 61.0C464.0 59.7 465.0 59.0 466.0 58.0C467.0 57.0 468.2 56.1 469.0 55.0C469.8 53.9 470.3 53.1 471.0 51.6C471.7 50.1 472.3 47.8 473.0 46.0C473.7 44.2 474.3 42.4 475.0 41.0C475.7 39.6 476.6 38.5 477.4 37.6C478.2 36.7 479.1 36.1 480.0 35.6C480.9 35.1 482.1 34.8 483.0 34.8C483.9 34.8 484.8 34.9 485.6 35.6C486.4 36.3 487.1 37.9 488.0 39.0C488.9 40.1 490.0 41.3 491.0 42.0C492.0 42.7 493.0 42.9 494.0 43.4C495.0 43.9 496.0 44.3 497.0 45.0C498.0 45.7 499.0 46.7 500.0 47.6C501.0 48.5 502.0 49.5 503.0 50.6C504.0 51.7 505.0 53.2 506.0 54.4C507.0 55.6 508.0 57.0 509.0 58.0C510.0 59.0 511.1 59.9 512.0 60.6C512.9 61.3 514.0 61.8 514.4 62.0"/>
<path class="hl" d="M312.0 283.6C312.5 283.6 314.2 283.7 315.0 283.6C315.8 283.5 316.3 283.4 317.0 283.2C317.7 283.0 318.3 282.6 319.0 282.6C319.7 282.6 320.5 282.9 321.0 283.2C321.5 283.5 321.5 284.2 322.0 284.4C322.5 284.6 323.3 284.5 324.0 284.4C324.7 284.3 325.5 283.8 326.0 283.6C326.5 283.4 326.5 283.0 327.0 283.0C327.5 283.0 328.2 283.5 329.0 283.6C329.8 283.7 331.0 283.6 332.0 283.4C333.0 283.2 334.0 283.2 335.0 282.6C336.0 282.0 337.0 280.8 338.0 280.0C339.0 279.2 340.0 278.3 341.0 277.6C342.0 276.9 343.0 276.4 344.0 275.6C345.0 274.8 346.0 273.8 347.0 273.0C348.0 272.2 349.0 271.2 350.0 270.6C351.0 270.0 352.2 269.3 353.0 269.4C353.8 269.5 354.3 270.1 355.0 271.0C355.7 271.9 356.3 273.8 357.0 275.0C357.7 276.2 358.3 277.5 359.0 278.4C359.7 279.3 360.3 280.1 361.0 280.6C361.7 281.1 362.7 281.7 363.4 281.6C364.1 281.5 364.4 281.3 365.0 280.0C365.6 278.7 366.3 276.3 367.0 274.0C367.7 271.7 368.3 269.0 369.0 266.0C369.7 263.0 370.3 259.5 371.0 256.0C371.7 252.5 372.3 248.5 373.0 245.0C373.7 241.5 374.4 237.8 375.0 235.0C375.6 232.2 376.1 229.8 376.6 228.0C377.1 226.2 377.5 226.0 378.0 224.0C378.5 222.0 378.9 218.8 379.4 216.0C379.9 213.2 380.4 209.5 381.0 207.0C381.6 204.5 382.3 202.7 383.0 201.0C383.7 199.3 384.2 198.1 385.0 197.0C385.8 195.9 387.0 195.1 388.0 194.4C389.0 193.7 390.0 193.2 391.0 193.0C392.0 192.8 393.0 192.7 394.0 193.0C395.0 193.3 396.0 194.0 397.0 195.0C398.0 196.0 399.0 197.5 400.0 199.0C401.0 200.5 402.0 202.4 403.0 204.0C404.0 205.6 405.0 207.1 406.0 208.4C407.0 209.7 408.0 210.7 409.0 211.6C410.0 212.5 411.0 213.4 412.0 214.0C413.0 214.6 413.8 214.9 415.0 215.2C416.2 215.5 417.8 215.6 419.0 215.6C420.2 215.6 421.0 215.4 422.0 215.0C423.0 214.6 424.0 213.8 425.0 213.0C426.0 212.2 427.0 211.0 428.0 210.0C429.0 209.0 430.0 207.9 431.0 207.0C432.0 206.1 433.0 205.2 434.0 204.6C435.0 204.0 436.2 203.4 437.0 203.6C437.8 203.8 438.3 204.6 439.0 206.0C439.7 207.4 440.3 209.7 441.0 212.0C441.7 214.3 442.3 217.2 443.0 220.0C443.7 222.8 444.3 226.0 445.0 229.0C445.7 232.0 446.3 235.3 447.0 238.0C447.7 240.7 448.3 242.7 449.0 245.0C449.7 247.3 450.3 249.5 451.0 252.0C451.7 254.5 452.3 257.7 453.0 260.0C453.7 262.3 454.3 264.3 455.0 266.0C455.7 267.7 456.3 269.0 457.0 270.0C457.7 271.0 458.3 271.7 459.0 272.0C459.7 272.3 460.2 272.2 461.0 272.0C461.8 271.8 463.0 271.2 464.0 270.6C465.0 270.0 466.0 269.2 467.0 268.4C468.0 267.6 469.0 266.9 470.0 266.0C471.0 265.1 471.8 264.1 473.0 263.0C474.2 261.9 475.7 260.8 477.0 259.6C478.3 258.4 479.7 257.2 481.0 256.0C482.3 254.8 483.7 253.6 485.0 252.4C486.3 251.2 487.7 250.1 489.0 249.0C490.3 247.9 491.8 247.0 493.0 246.0C494.2 245.0 495.0 244.0 496.0 243.0C497.0 242.0 498.2 240.3 499.0 240.0C499.8 239.7 500.2 240.7 501.0 241.0C501.8 241.3 503.0 241.4 504.0 241.6C505.0 241.8 506.0 241.7 507.0 242.0C508.0 242.3 509.0 243.1 510.0 243.6C511.0 244.1 512.2 244.6 513.0 245.0C513.8 245.4 514.3 245.8 514.6 246.0"/>
<path class="hl" d="M312.0 444.0C312.5 444.0 314.2 444.2 315.0 444.0C315.8 443.8 316.3 443.4 317.0 443.0C317.7 442.6 318.3 442.4 319.0 441.6C319.7 440.8 320.3 439.4 321.0 438.0C321.7 436.6 322.3 435.0 323.0 433.0C323.7 431.0 324.3 428.3 325.0 426.0C325.7 423.7 326.2 421.2 327.0 419.0C327.8 416.8 329.0 414.8 330.0 413.0C331.0 411.2 332.0 409.5 333.0 408.0C334.0 406.5 335.0 405.3 336.0 404.0C337.0 402.7 338.0 401.0 339.0 400.0C340.0 399.0 341.2 397.8 342.0 398.0C342.8 398.2 343.3 399.9 344.0 401.0C344.7 402.1 345.3 403.4 346.0 404.4C346.7 405.4 347.3 406.3 348.0 407.0C348.7 407.7 349.2 408.2 350.0 408.4C350.8 408.6 352.0 408.5 353.0 408.0C354.0 407.5 355.0 406.4 356.0 405.6C357.0 404.8 358.2 403.7 359.0 403.4C359.8 403.1 360.2 403.4 361.0 404.0C361.8 404.6 363.2 406.2 364.0 407.0C364.8 407.8 365.3 409.2 366.0 409.0C366.7 408.8 367.3 407.3 368.0 406.0C368.7 404.7 369.2 403.0 370.0 401.0C370.8 399.0 372.0 396.2 373.0 394.0C374.0 391.8 375.0 389.7 376.0 388.0C377.0 386.3 378.2 385.2 379.0 384.0C379.8 382.8 380.3 381.7 381.0 381.0C381.7 380.3 382.3 379.8 383.0 380.0C383.7 380.2 384.2 381.1 385.0 382.0C385.8 382.9 387.0 384.5 388.0 385.6C389.0 386.7 390.0 387.8 391.0 388.4C392.0 389.0 393.1 389.3 394.0 389.4C394.9 389.5 395.8 389.5 396.6 389.0C397.4 388.5 398.1 387.8 399.0 386.6C399.9 385.4 401.0 383.6 402.0 382.0C403.0 380.4 404.0 378.7 405.0 377.0C406.0 375.3 407.2 373.7 408.0 372.0C408.8 370.3 409.3 368.7 410.0 367.0C410.7 365.3 411.3 363.6 412.0 362.0C412.7 360.4 413.3 358.9 414.0 357.6C414.7 356.3 415.3 354.9 416.0 354.0C416.7 353.1 417.6 352.3 418.4 352.4C419.2 352.5 420.2 353.5 421.0 354.4C421.8 355.3 422.3 356.6 423.0 358.0C423.7 359.4 424.3 361.2 425.0 363.0C425.7 364.8 426.3 367.0 427.0 369.0C427.7 371.0 428.3 373.0 429.0 375.0C429.7 377.0 430.2 379.2 431.0 381.0C431.8 382.8 432.8 384.7 433.6 386.0C434.4 387.3 435.1 387.8 436.0 389.0C436.9 390.2 438.0 391.8 439.0 393.0C440.0 394.2 441.0 395.2 442.0 396.0C443.0 396.8 444.0 397.6 445.0 398.0C446.0 398.4 446.8 398.5 448.0 398.6C449.2 398.7 450.8 398.5 452.0 398.6C453.2 398.7 454.0 398.7 455.0 399.0C456.0 399.3 457.0 399.9 458.0 400.4C459.0 400.9 460.0 401.3 461.0 402.0C462.0 402.7 463.0 403.5 464.0 404.4C465.0 405.3 466.0 406.6 467.0 407.6C468.0 408.6 469.0 409.7 470.0 410.6C471.0 411.5 472.0 412.3 473.0 413.0C474.0 413.7 475.0 414.3 476.0 414.6C477.0 414.9 478.1 414.9 479.0 415.0C479.9 415.1 480.9 415.2 481.6 415.0C482.3 414.8 482.4 414.0 483.0 414.0C483.6 414.0 484.3 414.7 485.0 415.0C485.7 415.3 486.2 415.7 487.0 416.0C487.8 416.3 489.0 416.4 490.0 416.6C491.0 416.8 492.0 417.1 493.0 417.2C494.0 417.3 495.0 417.3 496.0 417.0C497.0 416.7 498.0 416.3 499.0 415.6C500.0 414.9 501.2 413.9 502.0 413.0C502.8 412.1 503.3 410.9 504.0 410.0C504.7 409.1 505.4 408.0 506.0 407.4C506.6 406.8 507.0 406.5 507.6 406.6C508.2 406.7 508.9 407.3 509.6 408.0C510.3 408.7 511.2 409.9 512.0 410.6C512.8 411.3 514.2 412.1 514.6 412.4"/>
<rect x="97.35" y="30.6" width="2.7" height="415.3" fill="#ff8d96" opacity=".9"/>
<rect x="149.25" y="30.6" width="2.7" height="415.3" fill="#ff8d96" opacity=".9"/>
<rect x="202.20" y="30.6" width="2.7" height="415.3" fill="#ff8d96" opacity=".9"/>
<rect x="363.30" y="31.1" width="2.7" height="415.3" fill="#ff8d96" opacity=".9"/>
<rect x="417.00" y="31.1" width="2.7" height="415.3" fill="#ff8d96" opacity=".9"/>
<rect x="469.80" y="31.1" width="2.7" height="415.3" fill="#ff8d96" opacity=".9"/>
<path class="cv" d="M46.0 81.0C46.5 81.2 48.0 81.5 49.0 82.4C50.0 83.3 51.1 85.7 52.0 86.6C52.9 87.5 53.6 87.9 54.4 88.0C55.2 88.1 56.1 88.3 57.0 87.0C57.9 85.7 59.0 82.3 60.0 80.0C61.0 77.7 62.0 74.8 63.0 73.0C64.0 71.2 64.8 70.4 66.0 69.0C67.2 67.6 68.8 65.6 70.0 64.4C71.2 63.2 72.0 62.6 73.0 62.0C74.0 61.4 75.0 61.8 76.0 61.0C77.0 60.2 78.0 58.1 79.0 57.0C80.0 55.9 81.1 54.9 82.0 54.6C82.9 54.3 83.4 54.3 84.4 55.4C85.4 56.5 86.9 59.3 88.0 61.0C89.1 62.7 90.0 64.3 91.0 65.6C92.0 66.9 93.0 67.8 94.0 69.0C95.0 70.2 96.2 72.0 97.0 73.0C97.8 74.0 98.2 74.4 99.0 75.0C99.8 75.6 100.8 75.9 102.0 76.6C103.2 77.3 104.7 78.0 106.0 79.0C107.3 80.0 108.9 80.7 110.0 82.4C111.1 84.1 111.6 86.4 112.4 89.0C113.2 91.6 114.2 95.8 115.0 98.0C115.8 100.2 116.3 101.5 117.0 102.4C117.7 103.3 118.6 103.6 119.4 103.4C120.2 103.2 121.1 102.4 122.0 101.0C122.9 99.6 124.0 97.5 125.0 95.0C126.0 92.5 127.0 89.0 128.0 86.0C129.0 83.0 130.2 79.3 131.0 77.0C131.8 74.7 132.0 74.1 133.0 72.4C134.0 70.7 135.7 69.1 137.0 67.0C138.3 64.9 139.7 62.2 141.0 59.6C142.3 57.0 143.8 54.0 145.0 51.6C146.2 49.2 147.0 46.7 148.0 45.0C149.0 43.3 149.8 42.8 151.0 41.6C152.2 40.4 153.7 39.2 155.0 38.0C156.3 36.8 157.5 35.3 159.0 34.4C160.5 33.5 162.7 32.5 164.0 32.6C165.3 32.7 166.0 33.8 167.0 35.0C168.0 36.2 169.0 37.8 170.0 40.0C171.0 42.2 172.0 45.2 173.0 48.0C174.0 50.8 175.1 54.8 176.0 57.0C176.9 59.2 177.6 60.3 178.4 61.0C179.2 61.7 179.9 61.0 181.0 61.0C182.1 61.0 183.8 60.7 185.0 61.0C186.2 61.3 187.0 62.2 188.0 63.0C189.0 63.8 189.8 64.9 191.0 65.6C192.2 66.3 193.7 66.5 195.0 67.0C196.3 67.5 197.7 68.1 199.0 68.4C200.3 68.7 201.8 68.6 203.0 68.6C204.2 68.6 205.0 68.2 206.0 68.6C207.0 69.0 208.0 69.9 209.0 71.0C210.0 72.1 211.0 73.6 212.0 75.0C213.0 76.4 214.0 78.3 215.0 79.6C216.0 80.9 217.0 81.9 218.0 83.0C219.0 84.1 220.0 84.7 221.0 86.0C222.0 87.3 222.8 89.2 224.0 91.0C225.2 92.8 226.8 95.4 228.0 97.0C229.2 98.6 230.0 99.4 231.0 100.4C232.0 101.4 233.0 102.1 234.0 103.0C235.0 103.9 236.0 104.6 237.0 105.6C238.0 106.6 239.0 107.3 240.0 109.0C241.0 110.7 242.0 113.4 243.0 115.6C244.0 117.8 245.1 120.6 246.0 122.0C246.9 123.4 248.2 123.7 248.6 124.0"/>
<path class="cv" d="M46.0 277.4C46.5 277.1 48.0 276.4 49.0 275.6C50.0 274.8 50.8 273.5 52.0 272.4C53.2 271.3 54.7 270.3 56.0 269.0C57.3 267.7 58.7 265.9 60.0 264.4C61.3 262.9 62.8 261.4 64.0 260.0C65.2 258.6 66.0 257.5 67.0 256.0C68.0 254.5 69.0 252.5 70.0 251.0C71.0 249.5 72.0 248.4 73.0 247.0C74.0 245.6 75.0 243.8 76.0 242.4C77.0 241.0 78.1 239.3 79.0 238.4C79.9 237.5 80.7 236.7 81.4 237.0C82.1 237.3 82.4 238.7 83.0 240.0C83.6 241.3 84.2 243.2 85.0 245.0C85.8 246.8 87.1 249.3 88.0 251.0C88.9 252.7 89.4 253.7 90.4 255.0C91.4 256.3 92.9 257.8 94.0 259.0C95.1 260.2 96.2 261.3 97.0 262.0C97.8 262.7 98.2 262.9 99.0 263.4C99.8 263.9 101.0 264.2 102.0 265.0C103.0 265.8 104.0 266.9 105.0 268.0C106.0 269.1 107.0 270.3 108.0 271.6C109.0 272.9 110.0 274.3 111.0 275.6C112.0 276.9 113.2 278.3 114.0 279.6C114.8 280.9 115.3 282.5 116.0 283.2C116.7 283.9 117.3 283.5 118.0 283.6C118.7 283.7 119.3 283.9 120.0 283.6C120.7 283.3 121.3 282.9 122.0 282.0C122.7 281.1 123.3 279.7 124.0 278.0C124.7 276.3 125.6 274.0 126.4 272.0C127.2 270.0 128.1 268.3 129.0 266.0C129.9 263.7 131.0 260.7 132.0 258.0C133.0 255.3 134.0 252.5 135.0 250.0C136.0 247.5 137.0 245.3 138.0 243.0C139.0 240.7 140.0 238.4 141.0 236.4C142.0 234.4 143.0 232.3 144.0 231.0C145.0 229.7 146.0 229.6 147.0 228.4C148.0 227.2 149.0 225.3 150.0 224.0C151.0 222.7 151.8 221.8 153.0 220.6C154.2 219.4 155.7 218.1 157.0 217.0C158.3 215.9 159.7 214.9 161.0 214.0C162.3 213.1 163.7 212.2 165.0 211.6C166.3 211.0 167.7 211.0 169.0 210.6C170.3 210.2 171.7 209.8 173.0 209.4C174.3 209.0 175.7 209.0 177.0 208.4C178.3 207.8 179.7 206.7 181.0 205.6C182.3 204.5 183.8 203.6 185.0 202.0C186.2 200.4 187.1 197.6 188.0 196.0C188.9 194.4 189.8 192.7 190.6 192.4C191.4 192.1 192.1 193.4 193.0 194.0C193.9 194.6 195.0 195.5 196.0 196.0C197.0 196.5 198.0 196.6 199.0 197.0C200.0 197.4 201.0 198.1 202.0 198.4C203.0 198.7 204.0 199.1 205.0 199.0C206.0 198.9 207.0 198.3 208.0 198.0C209.0 197.7 210.0 196.9 211.0 197.0C212.0 197.1 212.8 197.9 214.0 198.6C215.2 199.3 216.7 200.2 218.0 201.0C219.3 201.8 220.8 202.8 222.0 203.6C223.2 204.4 224.0 205.1 225.0 205.6C226.0 206.1 226.7 206.6 228.0 206.8C229.3 207.0 231.3 206.8 233.0 206.8C234.7 206.8 236.5 206.8 238.0 206.8C239.5 206.8 241.0 206.1 242.0 206.8C243.0 207.5 243.3 209.3 244.0 211.0C244.7 212.7 245.2 215.0 246.0 217.0C246.8 219.0 248.2 222.0 248.6 223.0"/>
<path class="cv" d="M46.0 431.4C46.5 431.7 48.0 433.0 49.0 433.4C50.0 433.8 51.0 433.9 52.0 434.0C53.0 434.1 54.2 433.7 55.0 434.0C55.8 434.3 56.2 435.4 57.0 436.0C57.8 436.6 59.2 436.9 60.0 437.6C60.8 438.3 61.3 439.1 62.0 440.0C62.7 440.9 63.3 442.4 64.0 443.0C64.7 443.6 65.3 444.2 66.0 443.4C66.7 442.6 67.3 440.2 68.0 438.0C68.7 435.8 69.3 432.8 70.0 430.0C70.7 427.2 71.3 423.8 72.0 421.0C72.7 418.2 73.3 415.3 74.0 413.0C74.7 410.7 75.2 409.0 76.0 407.0C76.8 405.0 78.0 402.8 79.0 401.0C80.0 399.2 81.0 397.5 82.0 396.0C83.0 394.5 84.0 393.2 85.0 392.0C86.0 390.8 87.0 390.2 88.0 389.0C89.0 387.8 90.0 386.2 91.0 385.0C92.0 383.8 93.0 382.8 94.0 381.6C95.0 380.4 96.2 379.2 97.0 378.0C97.8 376.8 98.3 375.2 99.0 374.4C99.7 373.6 100.2 373.4 101.0 373.2C101.8 373.0 103.0 373.1 104.0 373.2C105.0 373.3 106.0 373.5 107.0 374.0C108.0 374.5 109.0 374.8 110.0 376.0C111.0 377.2 112.0 379.0 113.0 381.0C114.0 383.0 115.0 385.7 116.0 388.0C117.0 390.3 118.2 393.3 119.0 395.0C119.8 396.7 120.3 397.5 121.0 398.0C121.7 398.5 122.3 398.7 123.0 398.0C123.7 397.3 124.3 395.8 125.0 394.0C125.7 392.2 126.3 389.0 127.0 387.0C127.7 385.0 128.3 383.3 129.0 382.0C129.7 380.7 130.3 379.7 131.0 379.0C131.7 378.3 132.3 377.4 133.0 377.6C133.7 377.8 134.2 378.4 135.0 380.0C135.8 381.6 137.0 384.5 138.0 387.0C139.0 389.5 140.0 392.5 141.0 395.0C142.0 397.5 143.0 400.1 144.0 402.0C145.0 403.9 146.2 405.3 147.0 406.5C147.8 407.7 148.3 408.6 149.0 409.4C149.7 410.1 150.3 411.4 151.0 411.0C151.7 410.6 152.3 408.7 153.0 407.0C153.7 405.3 154.3 403.3 155.0 401.0C155.7 398.7 156.3 395.8 157.0 393.0C157.7 390.2 158.6 386.8 159.4 384.0C160.2 381.2 161.2 378.2 162.0 376.0C162.8 373.8 163.6 372.5 164.4 371.0C165.2 369.5 166.2 368.8 167.0 367.0C167.8 365.2 168.3 362.0 169.0 360.0C169.7 358.0 170.3 356.3 171.0 355.0C171.7 353.7 172.3 353.0 173.0 352.4C173.7 351.8 174.3 351.4 175.0 351.6C175.7 351.8 176.2 352.5 177.0 353.6C177.8 354.7 179.0 356.5 180.0 358.0C181.0 359.5 182.0 361.1 183.0 362.4C184.0 363.7 185.2 365.0 186.0 366.0C186.8 367.0 187.2 368.0 188.0 368.4C188.8 368.8 190.2 368.8 191.0 368.4C191.8 368.0 192.3 366.6 193.0 366.0C193.7 365.4 194.2 364.8 195.0 364.6C195.8 364.4 196.8 364.6 198.0 364.6C199.2 364.6 200.8 364.4 202.0 364.6C203.2 364.8 204.0 365.5 205.0 366.0C206.0 366.5 206.8 367.3 208.0 367.6C209.2 367.9 211.0 367.8 212.0 368.0C213.0 368.2 213.2 368.2 214.0 369.0C214.8 369.8 216.0 372.2 217.0 373.0C218.0 373.8 219.0 373.5 220.0 373.6C221.0 373.7 222.0 373.8 223.0 373.6C224.0 373.4 225.2 372.5 226.0 372.6C226.8 372.7 227.2 372.8 228.0 374.0C228.8 375.2 230.0 377.7 231.0 380.0C232.0 382.3 233.0 385.3 234.0 388.0C235.0 390.7 236.0 393.7 237.0 396.0C238.0 398.3 239.0 400.5 240.0 402.0C241.0 403.5 242.2 404.6 243.0 405.0C243.8 405.4 244.3 404.8 245.0 404.4C245.7 404.0 246.4 403.1 247.0 402.4C247.6 401.7 248.3 400.7 248.6 400.4"/>
<path class="cv" d="M312.4 117.4C312.8 117.8 314.1 119.2 315.0 120.0C315.9 120.8 317.0 121.7 318.0 122.4C319.0 123.1 320.0 123.6 321.0 124.0C322.0 124.4 323.1 124.9 324.0 125.0C324.9 125.1 325.6 125.3 326.4 124.6C327.2 123.9 327.8 122.6 328.6 121.0C329.4 119.4 330.1 117.0 331.0 115.0C331.9 113.0 333.2 111.2 334.0 109.0C334.8 106.8 335.3 104.5 336.0 102.0C336.7 99.5 337.3 96.5 338.0 94.0C338.7 91.5 339.3 89.3 340.0 87.0C340.7 84.7 341.3 82.2 342.0 80.4C342.7 78.6 343.3 77.2 344.0 76.0C344.7 74.8 345.3 74.0 346.0 73.4C346.7 72.8 347.3 72.5 348.0 72.4C348.7 72.3 349.2 72.2 350.0 72.6C350.8 73.0 352.0 74.3 353.0 75.0C354.0 75.7 355.0 76.6 356.0 77.0C357.0 77.4 358.0 77.4 359.0 77.6C360.0 77.8 361.1 77.9 362.0 78.0C362.9 78.1 363.7 77.7 364.4 78.0C365.1 78.3 365.4 78.9 366.0 80.0C366.6 81.1 367.3 83.1 368.0 84.4C368.7 85.7 369.3 87.3 370.0 88.0C370.7 88.7 371.3 88.8 372.0 88.6C372.7 88.4 373.3 88.3 374.0 87.0C374.7 85.7 375.3 82.8 376.0 81.0C376.7 79.2 377.4 78.0 378.0 76.0C378.6 74.0 378.9 72.0 379.4 69.0C379.9 66.0 380.5 61.3 381.0 58.0C381.5 54.7 382.0 51.8 382.6 49.0C383.2 46.2 383.9 43.2 384.6 41.0C385.3 38.8 386.2 36.9 387.0 35.6C387.8 34.3 388.6 33.5 389.4 33.4C390.2 33.3 391.2 34.1 392.0 35.0C392.8 35.9 393.3 37.5 394.0 39.0C394.7 40.5 395.3 42.4 396.0 44.0C396.7 45.6 397.3 47.2 398.0 48.4C398.7 49.6 399.2 50.1 400.0 51.0C400.8 51.9 402.0 52.8 403.0 53.6C404.0 54.4 405.0 54.9 406.0 55.6C407.0 56.3 408.0 57.1 409.0 58.0C410.0 58.9 411.2 59.7 412.0 61.0C412.8 62.3 413.3 63.8 414.0 66.0C414.7 68.2 415.3 71.3 416.0 74.0C416.7 76.7 417.3 80.1 418.0 82.4C418.7 84.7 419.3 86.6 420.0 88.0C420.7 89.4 421.6 90.0 422.4 90.6C423.2 91.2 424.1 91.4 425.0 91.4C425.9 91.4 427.0 90.8 428.0 90.6C429.0 90.4 430.0 90.2 431.0 90.0C432.0 89.8 433.0 89.7 434.0 89.4C435.0 89.1 436.0 88.7 437.0 88.0C438.0 87.3 439.0 86.3 440.0 85.4C441.0 84.5 442.0 83.5 443.0 82.6C444.0 81.7 445.0 80.8 446.0 80.0C447.0 79.2 448.0 78.5 449.0 78.0C450.0 77.5 451.2 77.4 452.0 77.0C452.8 76.6 453.2 76.6 454.0 75.6C454.8 74.6 456.0 72.6 457.0 71.0C458.0 69.4 459.0 67.7 460.0 66.0C461.0 64.3 462.0 62.3 463.0 61.0C464.0 59.7 465.0 59.0 466.0 58.0C467.0 57.0 468.2 56.1 469.0 55.0C469.8 53.9 470.3 53.1 471.0 51.6C471.7 50.1 472.3 47.8 473.0 46.0C473.7 44.2 474.3 42.4 475.0 41.0C475.7 39.6 476.6 38.5 477.4 37.6C478.2 36.7 479.1 36.1 480.0 35.6C480.9 35.1 482.1 34.8 483.0 34.8C483.9 34.8 484.8 34.9 485.6 35.6C486.4 36.3 487.1 37.9 488.0 39.0C488.9 40.1 490.0 41.3 491.0 42.0C492.0 42.7 493.0 42.9 494.0 43.4C495.0 43.9 496.0 44.3 497.0 45.0C498.0 45.7 499.0 46.7 500.0 47.6C501.0 48.5 502.0 49.5 503.0 50.6C504.0 51.7 505.0 53.2 506.0 54.4C507.0 55.6 508.0 57.0 509.0 58.0C510.0 59.0 511.1 59.9 512.0 60.6C512.9 61.3 514.0 61.8 514.4 62.0"/>
<path class="cv" d="M312.0 283.6C312.5 283.6 314.2 283.7 315.0 283.6C315.8 283.5 316.3 283.4 317.0 283.2C317.7 283.0 318.3 282.6 319.0 282.6C319.7 282.6 320.5 282.9 321.0 283.2C321.5 283.5 321.5 284.2 322.0 284.4C322.5 284.6 323.3 284.5 324.0 284.4C324.7 284.3 325.5 283.8 326.0 283.6C326.5 283.4 326.5 283.0 327.0 283.0C327.5 283.0 328.2 283.5 329.0 283.6C329.8 283.7 331.0 283.6 332.0 283.4C333.0 283.2 334.0 283.2 335.0 282.6C336.0 282.0 337.0 280.8 338.0 280.0C339.0 279.2 340.0 278.3 341.0 277.6C342.0 276.9 343.0 276.4 344.0 275.6C345.0 274.8 346.0 273.8 347.0 273.0C348.0 272.2 349.0 271.2 350.0 270.6C351.0 270.0 352.2 269.3 353.0 269.4C353.8 269.5 354.3 270.1 355.0 271.0C355.7 271.9 356.3 273.8 357.0 275.0C357.7 276.2 358.3 277.5 359.0 278.4C359.7 279.3 360.3 280.1 361.0 280.6C361.7 281.1 362.7 281.7 363.4 281.6C364.1 281.5 364.4 281.3 365.0 280.0C365.6 278.7 366.3 276.3 367.0 274.0C367.7 271.7 368.3 269.0 369.0 266.0C369.7 263.0 370.3 259.5 371.0 256.0C371.7 252.5 372.3 248.5 373.0 245.0C373.7 241.5 374.4 237.8 375.0 235.0C375.6 232.2 376.1 229.8 376.6 228.0C377.1 226.2 377.5 226.0 378.0 224.0C378.5 222.0 378.9 218.8 379.4 216.0C379.9 213.2 380.4 209.5 381.0 207.0C381.6 204.5 382.3 202.7 383.0 201.0C383.7 199.3 384.2 198.1 385.0 197.0C385.8 195.9 387.0 195.1 388.0 194.4C389.0 193.7 390.0 193.2 391.0 193.0C392.0 192.8 393.0 192.7 394.0 193.0C395.0 193.3 396.0 194.0 397.0 195.0C398.0 196.0 399.0 197.5 400.0 199.0C401.0 200.5 402.0 202.4 403.0 204.0C404.0 205.6 405.0 207.1 406.0 208.4C407.0 209.7 408.0 210.7 409.0 211.6C410.0 212.5 411.0 213.4 412.0 214.0C413.0 214.6 413.8 214.9 415.0 215.2C416.2 215.5 417.8 215.6 419.0 215.6C420.2 215.6 421.0 215.4 422.0 215.0C423.0 214.6 424.0 213.8 425.0 213.0C426.0 212.2 427.0 211.0 428.0 210.0C429.0 209.0 430.0 207.9 431.0 207.0C432.0 206.1 433.0 205.2 434.0 204.6C435.0 204.0 436.2 203.4 437.0 203.6C437.8 203.8 438.3 204.6 439.0 206.0C439.7 207.4 440.3 209.7 441.0 212.0C441.7 214.3 442.3 217.2 443.0 220.0C443.7 222.8 444.3 226.0 445.0 229.0C445.7 232.0 446.3 235.3 447.0 238.0C447.7 240.7 448.3 242.7 449.0 245.0C449.7 247.3 450.3 249.5 451.0 252.0C451.7 254.5 452.3 257.7 453.0 260.0C453.7 262.3 454.3 264.3 455.0 266.0C455.7 267.7 456.3 269.0 457.0 270.0C457.7 271.0 458.3 271.7 459.0 272.0C459.7 272.3 460.2 272.2 461.0 272.0C461.8 271.8 463.0 271.2 464.0 270.6C465.0 270.0 466.0 269.2 467.0 268.4C468.0 267.6 469.0 266.9 470.0 266.0C471.0 265.1 471.8 264.1 473.0 263.0C474.2 261.9 475.7 260.8 477.0 259.6C478.3 258.4 479.7 257.2 481.0 256.0C482.3 254.8 483.7 253.6 485.0 252.4C486.3 251.2 487.7 250.1 489.0 249.0C490.3 247.9 491.8 247.0 493.0 246.0C494.2 245.0 495.0 244.0 496.0 243.0C497.0 242.0 498.2 240.3 499.0 240.0C499.8 239.7 500.2 240.7 501.0 241.0C501.8 241.3 503.0 241.4 504.0 241.6C505.0 241.8 506.0 241.7 507.0 242.0C508.0 242.3 509.0 243.1 510.0 243.6C511.0 244.1 512.2 244.6 513.0 245.0C513.8 245.4 514.3 245.8 514.6 246.0"/>
<path class="cv" d="M312.0 444.0C312.5 444.0 314.2 444.2 315.0 444.0C315.8 443.8 316.3 443.4 317.0 443.0C317.7 442.6 318.3 442.4 319.0 441.6C319.7 440.8 320.3 439.4 321.0 438.0C321.7 436.6 322.3 435.0 323.0 433.0C323.7 431.0 324.3 428.3 325.0 426.0C325.7 423.7 326.2 421.2 327.0 419.0C327.8 416.8 329.0 414.8 330.0 413.0C331.0 411.2 332.0 409.5 333.0 408.0C334.0 406.5 335.0 405.3 336.0 404.0C337.0 402.7 338.0 401.0 339.0 400.0C340.0 399.0 341.2 397.8 342.0 398.0C342.8 398.2 343.3 399.9 344.0 401.0C344.7 402.1 345.3 403.4 346.0 404.4C346.7 405.4 347.3 406.3 348.0 407.0C348.7 407.7 349.2 408.2 350.0 408.4C350.8 408.6 352.0 408.5 353.0 408.0C354.0 407.5 355.0 406.4 356.0 405.6C357.0 404.8 358.2 403.7 359.0 403.4C359.8 403.1 360.2 403.4 361.0 404.0C361.8 404.6 363.2 406.2 364.0 407.0C364.8 407.8 365.3 409.2 366.0 409.0C366.7 408.8 367.3 407.3 368.0 406.0C368.7 404.7 369.2 403.0 370.0 401.0C370.8 399.0 372.0 396.2 373.0 394.0C374.0 391.8 375.0 389.7 376.0 388.0C377.0 386.3 378.2 385.2 379.0 384.0C379.8 382.8 380.3 381.7 381.0 381.0C381.7 380.3 382.3 379.8 383.0 380.0C383.7 380.2 384.2 381.1 385.0 382.0C385.8 382.9 387.0 384.5 388.0 385.6C389.0 386.7 390.0 387.8 391.0 388.4C392.0 389.0 393.1 389.3 394.0 389.4C394.9 389.5 395.8 389.5 396.6 389.0C397.4 388.5 398.1 387.8 399.0 386.6C399.9 385.4 401.0 383.6 402.0 382.0C403.0 380.4 404.0 378.7 405.0 377.0C406.0 375.3 407.2 373.7 408.0 372.0C408.8 370.3 409.3 368.7 410.0 367.0C410.7 365.3 411.3 363.6 412.0 362.0C412.7 360.4 413.3 358.9 414.0 357.6C414.7 356.3 415.3 354.9 416.0 354.0C416.7 353.1 417.6 352.3 418.4 352.4C419.2 352.5 420.2 353.5 421.0 354.4C421.8 355.3 422.3 356.6 423.0 358.0C423.7 359.4 424.3 361.2 425.0 363.0C425.7 364.8 426.3 367.0 427.0 369.0C427.7 371.0 428.3 373.0 429.0 375.0C429.7 377.0 430.2 379.2 431.0 381.0C431.8 382.8 432.8 384.7 433.6 386.0C434.4 387.3 435.1 387.8 436.0 389.0C436.9 390.2 438.0 391.8 439.0 393.0C440.0 394.2 441.0 395.2 442.0 396.0C443.0 396.8 444.0 397.6 445.0 398.0C446.0 398.4 446.8 398.5 448.0 398.6C449.2 398.7 450.8 398.5 452.0 398.6C453.2 398.7 454.0 398.7 455.0 399.0C456.0 399.3 457.0 399.9 458.0 400.4C459.0 400.9 460.0 401.3 461.0 402.0C462.0 402.7 463.0 403.5 464.0 404.4C465.0 405.3 466.0 406.6 467.0 407.6C468.0 408.6 469.0 409.7 470.0 410.6C471.0 411.5 472.0 412.3 473.0 413.0C474.0 413.7 475.0 414.3 476.0 414.6C477.0 414.9 478.1 414.9 479.0 415.0C479.9 415.1 480.9 415.2 481.6 415.0C482.3 414.8 482.4 414.0 483.0 414.0C483.6 414.0 484.3 414.7 485.0 415.0C485.7 415.3 486.2 415.7 487.0 416.0C487.8 416.3 489.0 416.4 490.0 416.6C491.0 416.8 492.0 417.1 493.0 417.2C494.0 417.3 495.0 417.3 496.0 417.0C497.0 416.7 498.0 416.3 499.0 415.6C500.0 414.9 501.2 413.9 502.0 413.0C502.8 412.1 503.3 410.9 504.0 410.0C504.7 409.1 505.4 408.0 506.0 407.4C506.6 406.8 507.0 406.5 507.6 406.6C508.2 406.7 508.9 407.3 509.6 408.0C510.3 408.7 511.2 409.9 512.0 410.6C512.8 411.3 514.2 412.1 514.6 412.4"/>
</svg></body></html>
